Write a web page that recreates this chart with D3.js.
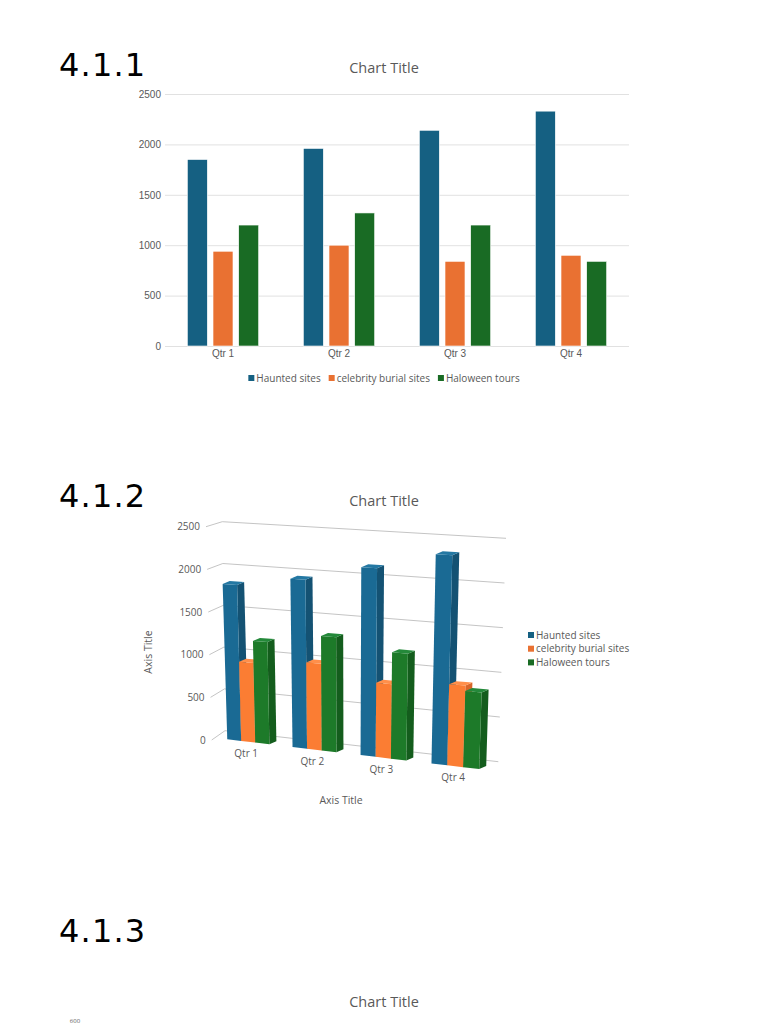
<!DOCTYPE html>
<html>
<head>
<meta charset="utf-8">
<style>
  body { margin: 0; background: #fff; }
  svg { display: block; font-family: "Open Sans", sans-serif; }
  .heading { font-family: "DejaVu Sans", sans-serif; font-size: 32px; letter-spacing: 1.2px; fill: #000; }
  .title { font-size: 14.5px; fill: #595959; }
  .tick text, .lbl { font-size: 10px; fill: #595959; }
  .axtitle { font-size: 10.5px; fill: #595959; }
</style>
</head>
<body>
<script src="https://cdn.jsdelivr.net/npm/d3@7"></script>
<script>
// data
var quarters = ["Qtr 1", "Qtr 2", "Qtr 3", "Qtr 4"];
var seriesNames = ["Haunted sites", "celebrity burial sites", "Haloween tours"];
var haunted = [1850, 1960, 2140, 2330];
var burial  = [940, 1000, 840, 900];
var tours   = [1200, 1320, 1200, 840];
var yTicks  = [0, 500, 1000, 1500, 2000, 2500];
var headings = ["4.1.1", "4.1.2", "4.1.3"];
var chartTitle = "Chart Title";
var axisTitle = "Axis Title";

var values = [haunted, burial, tours];
var colors = ["#156082", "#e97132", "#196b24"];
var shades = [
  {front: "#1a6a94", side: "#145273", top: "#2478a3"},
  {front: "#fb7d33", side: "#d8662a", top: "#ff8f4a"},
  {front: "#1d7a29", side: "#145d1d", top: "#24893a"}
];

var rows = quarters.map(function(q, i) {
  return {q: q, vals: values.map(function(s, k) { return {k: k, v: s[i]}; })};
});

var svg = d3.select("body").append("svg")
    .attr("width", 768)
    .attr("height", 1024);

// section headings
var headY = [76, 507, 942];
svg.selectAll(".heading")
    .data(headings)
  .enter().append("text")
    .attr("class", "heading")
    .attr("x", 59)
    .attr("y", function(d, i) { return headY[i]; })
    .text(function(d) { return d; });

// ---------- 4.1.1 : flat clustered columns ----------
var g1 = svg.append("g");
g1.append("text").attr("class", "title")
    .attr("x", 384).attr("y", 73).attr("text-anchor", "middle")
    .text(chartTitle);

var x0 = d3.scaleBand().domain(quarters).range([165, 629])
    .paddingInner(0.385).paddingOuter(0.1925);
var x1 = d3.scaleBand().domain(d3.range(3)).range([0, x0.bandwidth()])
    .paddingInner(0.222);
var y = d3.scaleLinear().domain([0, 2500]).range([346, 94]);

g1.append("g")
    .attr("class", "y axis")
    .attr("transform", "translate(165,0)")
    .call(d3.axisLeft(y).tickValues(yTicks).tickFormat(d3.format("d"))
      .tickSize(-464).tickPadding(4))
    .call(function(a) {
      a.select(".domain").remove();
      a.selectAll("line").attr("stroke", "#d9d9d9").attr("stroke-width", 0.8);
      a.selectAll("text").attr("fill", "#595959").attr("font-family", null).attr("font-size", null);
    });

g1.append("g")
    .attr("class", "x axis")
    .attr("transform", "translate(0,346)")
    .call(d3.axisBottom(x0).tickSize(0).tickPadding(3.5))
    .call(function(a) {
      a.select(".domain").remove();
      a.selectAll("text").attr("fill", "#595959").attr("font-family", null).attr("font-size", null);
    });

g1.selectAll(".grp")
    .data(rows)
  .enter().append("g")
    .attr("transform", function(d) { return "translate(" + x0(d.q) + ",0)"; })
  .selectAll("rect")
    .data(function(d) { return d.vals; })
  .enter().append("rect")
    .attr("x", function(d) { return x1(d.k); })
    .attr("width", x1.bandwidth())
    .attr("y", function(d) { return y(d.v); })
    .attr("height", function(d) { return y(0) - y(d.v); })
    .attr("fill", function(d) { return colors[d.k]; })
    .attr("stroke", "#ffffff")
    .attr("stroke-width", 0.6);

// legend, centred under the plot
function legendRow(g, cx, cy) {
  var items = g.selectAll(".li").data(seriesNames).enter().append("g");
  items.append("rect").attr("width", 6).attr("height", 6).attr("y", cy - 3)
      .attr("fill", function(d, i) { return colors[i]; });
  items.append("text").attr("class", "lbl").attr("x", 8).attr("y", cy + 3.5)
      .text(function(d) { return d; });
  var pos = 0, offs = [];
  items.each(function() {
    offs.push(pos);
    pos += 8 + d3.select(this).select("text").node().getComputedTextLength() + 8;
  });
  var start = cx - (pos - 8) / 2;
  items.attr("transform", function(d, i) { return "translate(" + (start + offs[i]) + ",0)"; });
}
legendRow(g1.append("g"), 384, 378);

// ---------- 4.1.2 : 3-D clustered columns ----------
var g2 = svg.append("g");
g2.append("text").attr("class", "title")
    .attr("x", 384).attr("y", 506).attr("text-anchor", "middle")
    .text(chartTitle);

var v3 = d3.scaleLinear().domain([0, 2500]).range([0, 1]);
var u3 = d3.scaleBand().domain(quarters).range([0, 1])
    .paddingInner(0.35).paddingOuter(0.175);
var s3 = d3.scaleBand().domain(d3.range(3)).range([0, u3.bandwidth()]);

function lerp(a, b, t) { return [a[0] + (b[0] - a[0]) * t, a[1] + (b[1] - a[1]) * t]; }
// perspective foreshortening along the category axis (left side is further away)
function warp(u) { return 0.92 * u / (1 - 0.08 * u); }

// wall corners: front-left, back-left, back-right at value 0 and 2500
var wall = {
  fl0: [211.7, 740], fl1: [206, 526.7],
  bl0: [225, 730.7], bl1: [222.3, 521.7],
  br0: [498.3, 761.7], br1: [506, 538.3]
};
// plane of the column fronts, and the depth of a column
var plane = { b0: [216.1, 738.0], b1: [492.3, 770.6], t0: [209.3, 528.9], t1: [500.1, 542.0] };
var depth = [7, -3];

function barPt(u, v, back) {
  var s = warp(u), t = v3(v);
  var p = lerp(lerp(plane.b0, plane.b1, s), lerp(plane.t0, plane.t1, s), t);
  return back ? [p[0] + depth[0], p[1] + depth[1]] : p;
}
var line = d3.line();

// gridlines on side and back wall
g2.selectAll(".grid")
    .data(yTicks)
  .enter().append("path")
    .attr("d", function(v) {
      var t = v3(v);
      return line([lerp(wall.fl0, wall.fl1, t), lerp(wall.bl0, wall.bl1, t), lerp(wall.br0, wall.br1, t)]);
    })
    .attr("fill", "none")
    .attr("stroke", "#bdbdbd")
    .attr("stroke-width", 0.9);

g2.selectAll(".ytl")
    .data(yTicks)
  .enter().append("text")
    .attr("class", "lbl")
    .attr("text-anchor", "end")
    .attr("x", function(v) { return lerp(wall.fl0, wall.fl1, v3(v))[0] - 6; })
    .attr("y", function(v) { return lerp(wall.fl0, wall.fl1, v3(v))[1] + 3.5; })
    .text(function(v) { return v; });

// columns, drawn left to right so right neighbours hide side faces
var bars = [];
rows.forEach(function(r) {
  r.vals.forEach(function(d) {
    var a = u3(r.q) + s3(d.k), b = a + s3.bandwidth();
    bars.push({k: d.k, v: d.v, a: a, b: b});
  });
});

var col = g2.selectAll(".col")
    .data(bars)
  .enter().append("g");
col.append("path")
    .attr("d", function(d) {
      return line([barPt(d.b, 0), barPt(d.b, 0, true), barPt(d.b, d.v, true), barPt(d.b, d.v)]) + "Z";
    })
    .attr("fill", function(d) { return shades[d.k].side; });
col.append("path")
    .attr("d", function(d) {
      return line([barPt(d.a, 0), barPt(d.b, 0), barPt(d.b, d.v), barPt(d.a, d.v)]) + "Z";
    })
    .attr("fill", function(d) { return shades[d.k].front; });
col.append("path")
    .attr("d", function(d) {
      return line([barPt(d.a, d.v), barPt(d.b, d.v), barPt(d.b, d.v, true), barPt(d.a, d.v, true)]) + "Z";
    })
    .attr("fill", function(d) { return shades[d.k].top; });

g2.selectAll(".xtl")
    .data(quarters)
  .enter().append("text")
    .attr("class", "lbl")
    .attr("text-anchor", "middle")
    .attr("x", function(q) { return barPt(u3(q) + u3.bandwidth() / 2, 0)[0] - 2; })
    .attr("y", function(q) { return barPt(u3(q) + u3.bandwidth() / 2, 0)[1] + 15; })
    .text(function(q) { return q; });

g2.append("text").attr("class", "axtitle")
    .attr("transform", "translate(152,652) rotate(-90)")
    .attr("text-anchor", "middle")
    .text(axisTitle);
g2.append("text").attr("class", "axtitle")
    .attr("x", 341).attr("y", 804)
    .attr("text-anchor", "middle")
    .text(axisTitle);

var leg = g2.selectAll(".leg")
    .data(seriesNames)
  .enter().append("g")
    .attr("transform", function(d, i) { return "translate(528," + (635 + i * 13.7) + ")"; });
leg.append("rect").attr("x", 0).attr("y", -3).attr("width", 6).attr("height", 6)
    .attr("fill", function(d, i) { return colors[i]; });
leg.append("text").attr("class", "lbl").attr("x", 8).attr("y", 3.5)
    .text(function(d) { return d; });

// ---------- 4.1.3 : only the top of the next chart is visible ----------
var g3 = svg.append("g");
g3.append("text").attr("class", "title")
    .attr("x", 384).attr("y", 1007).attr("text-anchor", "middle")
    .text(chartTitle);
g3.append("text").attr("class", "lbl")
    .style("font-size", "6px")
    .attr("x", 75).attr("y", 1023).attr("text-anchor", "middle")
    .text("600");
</script>
</body>
</html>
